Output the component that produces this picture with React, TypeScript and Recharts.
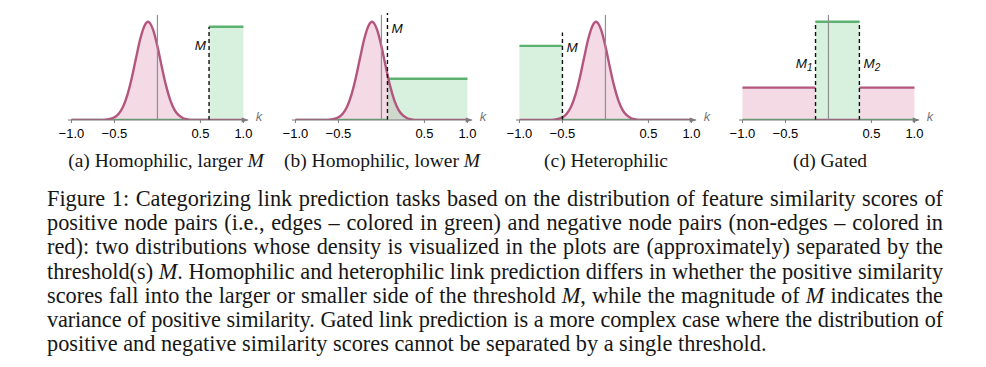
import React from 'react';
import { ComposedChart, Area, Line, XAxis, YAxis, ReferenceLine, ReferenceDot } from 'recharts';

// ---- data ----
const kTicks = [-1, -0.5, 0.5, 1];
// negative (non-edge) similarity density, shared bell shape for panels a, b, c
const negK = [-1, -0.65, -0.6, -0.55, -0.5, -0.45, -0.4, -0.35, -0.3, -0.25, -0.2, -0.15, -0.11, -0.05, 0, 0.05, 0.1, 0.15, 0.2, 0.25, 0.3, 0.35, 0.4, 1];
const negDensity = [0, 0, 0.003, 0.01, 0.027, 0.064, 0.135, 0.254, 0.423, 0.627, 0.825, 0.96, 1, 0.918, 0.75, 0.544, 0.35, 0.2, 0.101, 0.046, 0.018, 0.006, 0, 0];

type Seg = { from: number; to: number; v: number };
// positive (edge) step densities per panel
const posA: Seg[] = [{ from: -1, to: 0.6, v: 0 }, { from: 0.6, to: 1, v: 0.95 }];
const posB: Seg[] = [{ from: -1, to: 0.07, v: 0 }, { from: 0.07, to: 1, v: 0.42 }];
const posC: Seg[] = [{ from: -1, to: -0.5, v: 0.755 }, { from: -0.5, to: 1, v: 0 }];
const posD: Seg[] = [{ from: -1, to: -0.15, v: 0 }, { from: -0.15, to: 0.36, v: 1.0 }, { from: 0.36, to: 1, v: 0 }];
const negD: Seg[] = [{ from: -1, to: -0.15, v: 0.33 }, { from: -0.15, to: 0.36, v: 0 }, { from: 0.36, to: 1, v: 0.33 }];

// thresholds M: position and top of dashed line
const thresholdsA = [{ x: 0.6, top: 0.95 }];
const thresholdsB = [{ x: 0.07, top: 1.09 }];
const thresholdsC = [{ x: -0.5, top: 0.89 }];
const thresholdsD = [{ x: -0.15, top: 1.0 }, { x: 0.36, top: 1.0 }];

type MLabel = { x: number; y: number; side: 'left' | 'right'; sub?: string };
const labelsA: MLabel[] = [{ x: 0.6, y: 0.765, side: 'left' }];
const labelsB: MLabel[] = [{ x: 0.07, y: 0.94, side: 'right' }];
const labelsC: MLabel[] = [{ x: -0.5, y: 0.745, side: 'right' }];
const labelsD: MLabel[] = [{ x: -0.15, y: 0.58, side: 'left', sub: '1' }, { x: 0.36, y: 0.58, side: 'right', sub: '2' }];

const captionLabels = ['(a) Homophilic, larger ', '(b) Homophilic, lower ', '(c) Heterophilic', '(d) Gated'];
const captionItalic = ['M', 'M', '', ''];

// ---- styling ----
const RED_LINE = '#b4557e';
const RED_FILL = '#e0a3bf';
const GREEN_LINE = '#5cb070';
const GREEN_FILL = '#8fd3a0';
const AXIS = '#7a7a7a';

const UNIT = 86;
const DOMAIN_MIN = -1.04;
const DOMAIN_MAX = 1.05;
const PLOT_W = (DOMAIN_MAX - DOMAIN_MIN) * UNIT;
const M_LEFT = 18;
const M_RIGHT = 24;
const PLOT_H = 108;
const XAXIS_H = 30;
const panelMinus1 = [71, 295, 519, 742];
const captionCenters = [166, 382, 606, 830];

function segData(segs: Seg[]) {
  const out: { k: number; v: number | null }[] = [];
  segs.forEach((s, i) => {
    if (i > 0) out.push({ k: s.from, v: null });
    out.push({ k: s.from, v: s.v }, { k: s.to, v: s.v });
  });
  return out;
}
function fillData(segs: Seg[]) {
  return segData(segs.filter((s) => s.v > 0));
}

const curveData = negK.map((k, i) => ({ k, v: negDensity[i] }));

const fmt = (v: number) => (v < 0 ? '\u2212' + Math.abs(v).toFixed(1) : v.toFixed(1));

type PanelProps = {
  left: number;
  pos: Seg[];
  negSeg?: Seg[];
  thresholds: { x: number; top: number }[];
  labels: MLabel[];
};

function Panel({ left, pos, negSeg, thresholds, labels }: PanelProps) {
  const negFill = negSeg ? fillData(negSeg) : curveData;
  const negLine = negSeg ? segData(negSeg) : curveData;
  const curveType = negSeg ? 'linear' : 'monotone';
  return (
    <div style={{ position: 'absolute', left: left - 0.04 * UNIT - M_LEFT, top: 12 }}>
      <ComposedChart
        width={PLOT_W + M_LEFT + M_RIGHT}
        height={PLOT_H + XAXIS_H}
        margin={{ top: 0, right: M_RIGHT, bottom: 0, left: M_LEFT }}
      >
        <XAxis
          type="number"
          dataKey="k"
          domain={[DOMAIN_MIN, DOMAIN_MAX]}
          ticks={kTicks}
          tickFormatter={fmt}
          allowDataOverflow
          height={XAXIS_H}
          tickSize={3}
          tickMargin={6}
          axisLine={{ stroke: AXIS, strokeWidth: 1.2 }}
          tickLine={{ stroke: AXIS }}
          tick={{ fontSize: 13, fill: '#000', fontFamily: '"Liberation Sans", Arial, sans-serif' }}
        />
        <YAxis type="number" domain={[0, 1.1]} hide allowDataOverflow />
        <Area
          data={negFill}
          dataKey="v"
          type={curveType as any}
          stroke="none"
          fill={RED_FILL}
          fillOpacity={0.4}
          isAnimationActive={false}
          connectNulls={false}
          activeDot={false}
        />
        <Area
          data={fillData(pos)}
          dataKey="v"
          type="linear"
          stroke="none"
          fill={GREEN_FILL}
          fillOpacity={0.35}
          isAnimationActive={false}
          connectNulls={false}
          activeDot={false}
        />
        <Line
          data={segData(pos)}
          dataKey="v"
          type="linear"
          stroke={GREEN_LINE}
          strokeWidth={2.4}
          dot={false}
          activeDot={false}
          connectNulls={false}
          isAnimationActive={false}
        />
        <Line
          data={negLine}
          dataKey="v"
          type={curveType as any}
          stroke={RED_LINE}
          strokeWidth={2.4}
          dot={false}
          activeDot={false}
          connectNulls={false}
          isAnimationActive={false}
        />
        <ReferenceLine
          segment={[{ x: 0, y: 0 }, { x: 0, y: 1.07 }]}
          stroke="#8f8f8f"
          strokeWidth={1.2}
          ifOverflow="visible"
        />
        {thresholds.map((t, i) => (
          <ReferenceLine
            key={'t' + i}
            segment={[{ x: t.x, y: 0 }, { x: t.x, y: t.top }]}
            stroke="#111"
            strokeWidth={1.4}
            strokeDasharray="4 3"
            ifOverflow="visible"
          />
        ))}
        {labels.map((l, i) => (
          <ReferenceDot
            key={'l' + i}
            x={l.x}
            y={l.y}
            r={1}
            ifOverflow="visible"
            shape={(p: any) => (
              <text
                x={l.side === 'left' ? p.cx - 3 : p.cx + 4}
                y={p.cy + 5}
                textAnchor={l.side === 'left' ? 'end' : 'start'}
                fontSize={13.5}
                fontStyle="italic"
                fontFamily='"Liberation Sans", Arial, sans-serif'
                fill="#111"
              >
                M
                {l.sub ? (
                  <tspan fontSize={10} dy={3}>
                    {l.sub}
                  </tspan>
                ) : null}
              </text>
            )}
          />
        ))}
        <ReferenceDot
          x={DOMAIN_MAX}
          y={0}
          r={1}
          ifOverflow="visible"
          shape={(p: any) => (
            <g>
              <path d={`M${p.cx - 6},${p.cy - 2.6} L${p.cx + 1},${p.cy} L${p.cx - 6},${p.cy + 2.6} Z`} fill={AXIS} />
              <text
                x={p.cx + 8}
                y={p.cy + 1}
                fontSize={13}
                fontStyle="italic"
                fontFamily='"Liberation Sans", Arial, sans-serif'
                fill="#777"
              >
                k
              </text>
            </g>
          )}
        />
      </ComposedChart>
    </div>
  );
}

const captionLines: React.ReactNode[] = [
  <>Figure 1: Categorizing link prediction tasks based on the distribution of feature similarity scores of</>,
  <>positive node pairs (i.e., edges – colored in green) and negative node pairs (non-edges – colored in</>,
  <>red): two distributions whose density is visualized in the plots are (approximately) separated by the</>,
  <>threshold(s) <i>M</i>. Homophilic and heterophilic link prediction differs in whether the positive similarity</>,
  <>scores fall into the larger or smaller side of the threshold <i>M</i>, while the magnitude of <i>M</i> indicates the</>,
  <>variance of positive similarity. Gated link prediction is a more complex case where the distribution of</>,
  <>positive and negative similarity scores cannot be separated by a single threshold.</>,
];

export default function App() {
  const panels = [
    { pos: posA, thresholds: thresholdsA, labels: labelsA },
    { pos: posB, thresholds: thresholdsB, labels: labelsB },
    { pos: posC, thresholds: thresholdsC, labels: labelsC },
    { pos: posD, negSeg: negD, thresholds: thresholdsD, labels: labelsD },
  ];
  return (
    <div
      style={{
        position: 'absolute',
        left: 0,
        top: 0,
        width: 986,
        height: 367,
        background: '#fff',
        overflow: 'hidden',
        fontFamily: '"Liberation Serif", "Times New Roman", serif',
        color: '#161616',
      }}
    >
      {panels.map((p, i) => (
        <Panel key={i} left={panelMinus1[i]} {...p} />
      ))}
      {captionLabels.map((c, i) => (
        <div
          key={'c' + i}
          style={{
            position: 'absolute',
            left: captionCenters[i] - 150,
            width: 300,
            top: 151,
            textAlign: 'center',
            fontSize: 19.5,
            lineHeight: 1,
            whiteSpace: 'nowrap',
          }}
        >
          {c}
          {captionItalic[i] ? <i>{captionItalic[i]}</i> : null}
        </div>
      ))}
      <div style={{ position: 'absolute', left: 47, top: 187, width: 896, fontSize: 22.3, lineHeight: '24.2px' }}>
        {captionLines.map((l, i) => (
          <div
            key={'l' + i}
            style={{
              textAlign: i < captionLines.length - 1 ? 'justify' : 'left',
              textAlignLast: i < captionLines.length - 1 ? 'justify' : 'left',
              whiteSpace: 'nowrap',
              letterSpacing: i === 5 ? -0.14 : i === 3 ? -0.04 : 0,
            }}
          >
            {l}
          </div>
        ))}
      </div>
    </div>
  );
}
